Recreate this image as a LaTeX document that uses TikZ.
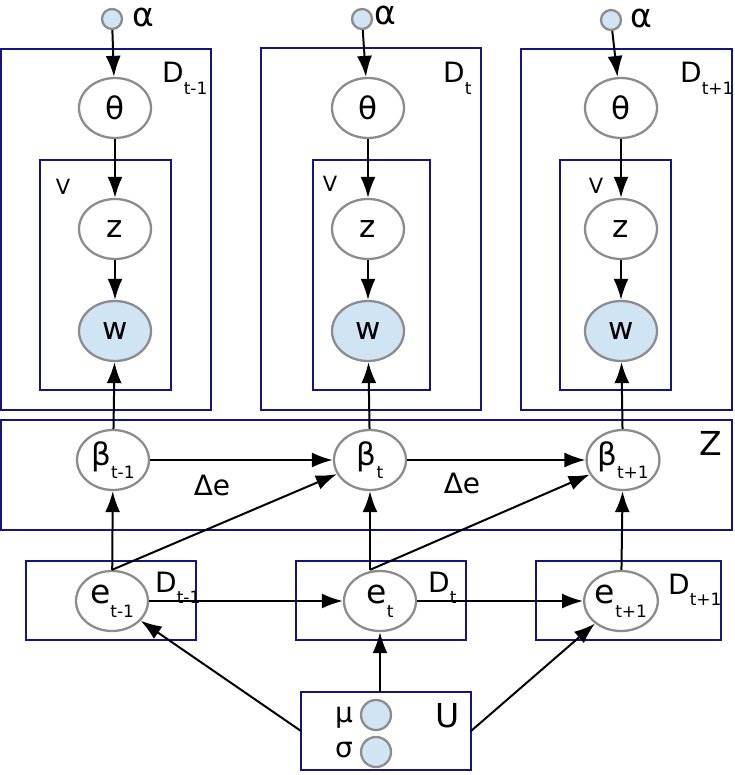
\documentclass[tikz,border=0pt]{standalone}
\usepackage{fontspec}
\setmainfont{DejaVu Sans}
\usetikzlibrary{shapes.geometric,arrows.meta}
\definecolor{obsfill}{RGB}{208,228,243}
\definecolor{nodeline}{RGB}{140,140,140}
\definecolor{platecol}{RGB}{20,20,130}
\newcommand\subs[1]{\raisebox{-0.42em}{\fontsize{17}{17}\selectfont #1}}
\tikzset{
  var/.style={ellipse,draw=nodeline,line width=2.3pt,fill=white,minimum width=72pt,minimum height=60pt,inner sep=0pt,font=\fontsize{31}{31}\selectfont},
  obs/.style={var,fill=obsfill},
  hyper/.style={circle,draw=nodeline,line width=2.3pt,fill=obsfill,minimum size=20pt,inner sep=0pt},
  hyperbig/.style={circle,draw=nodeline,line width=2.3pt,fill=obsfill,minimum size=30pt,inner sep=0pt},
  plate/.style={draw=platecol,line width=1.6pt},
  arr/.style={-{Latex[length=21pt,width=15pt]},line width=2pt},
  lbl/.style={inner sep=0pt,font=\fontsize{28}{28}\selectfont},
  lblbig/.style={inner sep=0pt,font=\fontsize{33}{33}\selectfont},
  lblsmall/.style={inner sep=0pt,font=\fontsize{21}{21}\selectfont}
}
\begin{document}
\begin{tikzpicture}[x=1pt,y=-1pt]
\useasboundingbox (0,0) rectangle (734,775);
% plates
\draw[plate] (1,49) rectangle (211,410);
\draw[plate] (261,48) rectangle (481,410);
\draw[plate] (521,49) rectangle (732,410);
\draw[plate] (40,160) rectangle (171,390);
\draw[plate] (313,160) rectangle (430,390);
\draw[plate] (560,160) rectangle (671,390);
\draw[plate] (1,420) rectangle (732,530);
\draw[plate] (26,561) rectangle (196,640);
\draw[plate] (296,561) rectangle (466,640);
\draw[plate] (536,561) rectangle (721,640);
\draw[plate] (301,692) rectangle (471,770);
% plate labels
\node[lbl,anchor=base west] (lD1) at (162,83) {D\subs{t-1}};
\node[lbl,anchor=base west] (lD2) at (443,83) {D\subs{t}};
\node[lbl,anchor=base west] (lD3) at (680,83) {D\subs{t+1}};
\node[lblsmall] (lV1) at (63,187) {V};
\node[lblsmall] (lV2) at (330,184) {V};
\node[lblsmall] (lV3) at (596,186) {V};
\node[lblbig] (lZ) at (711,443) {Z};
\node[lbl,anchor=base west] (lE1) at (155,592) {D\subs{t-1}};
\node[lbl,anchor=base west] (lE2) at (428,592) {D\subs{t}};
\node[lbl,anchor=base west] (lE3) at (668,594) {D\subs{t+1}};
\node[lblbig] (lU) at (448,716) {U};
% alpha
\node[hyper] (a1) at (112,19) {};
\node[hyper] (a2) at (362,19) {};
\node[hyper] (a3) at (611,20) {};
\node[lblbig] (la1) at (143,17) {α};
\node[lblbig] (la2) at (385,15) {α};
\node[lblbig] (la3) at (641,18) {α};
% columns
\foreach \i/\x in {1/115,2/368,3/621}{
  \node[var] (th\i) at (\x,108) {θ};
  \node[var] (z\i) at (\x,229) {z};
  \node[obs] (w\i) at (\x,331) {w};
}
% beta
\node[var] (b1) at (113,460) {β\subs{t-1}};
\node[var] (b2) at (370,460) {β\subs{t}};
\node[var] (b3) at (623,460) {β\subs{t+1}};
\node[lbl] (de1) at (212,485) {Δe};
\node[lbl] (de2) at (462,483) {Δe};
% e
\node[var,font=\fontsize{33}{33}\selectfont] (e1) at (112,601) {e\subs{t-1}};
\node[var,font=\fontsize{33}{33}\selectfont] (e2) at (380,601) {e\subs{t}};
\node[var,font=\fontsize{33}{33}\selectfont] (e3) at (621,601) {e\subs{t+1}};
% U
\node[hyperbig] (mu) at (376,715) {};
\node[hyperbig] (sg) at (376,752) {};
\node[lbl] (lmu) at (344,718) {μ};
\node[lbl] (lsg) at (344,750) {σ};
% arrows top
\foreach \i in {1,2,3}{
  \draw[arr] (a\i) -- (th\i);
  \draw[arr] (th\i) -- (z\i);
  \draw[arr] (z\i) -- (w\i);
  \draw[arr] (b\i) -- (w\i);
}
\draw[arr] (b1) -- (b2);
\draw[arr] (b2) -- (b3);
\draw[arr] (e1) -- (b1);
\draw[arr] (e1.north) -- (b2);
\draw[arr] (b2 |- e2.north) -- (b2);
\draw[arr] (b2 |- e2.north) -- (b3);
\draw[arr] (e3) -- (b3);
\draw[arr] (e1) -- (e2);
\draw[arr] (e2) -- (e3);
\coordinate (Uw) at (301,731);
\coordinate (Ue) at (471,731);
\coordinate (Un) at (380,692);
\draw[arr] (Uw) -- (e1);
\draw[arr] (Un) -- (e2);
\draw[arr] (Ue) -- (e3);
\end{tikzpicture}
\end{document}
